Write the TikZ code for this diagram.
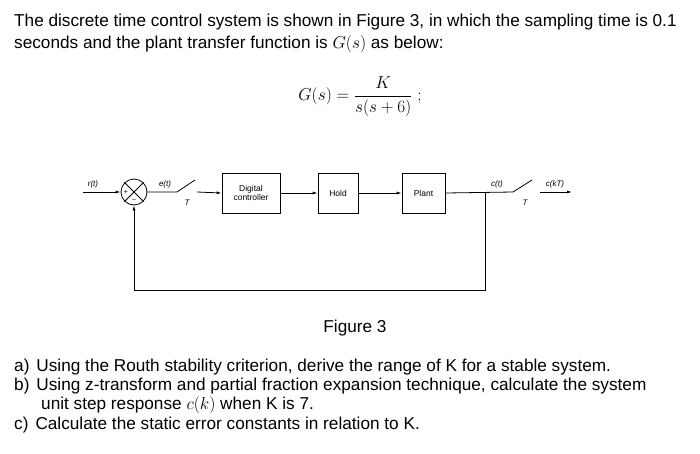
\documentclass[tikz,border=0pt]{standalone}
\usepackage{fontspec}
\usepackage{amsmath}
\setmainfont{Liberation Sans}
\usetikzlibrary{arrows.meta}
\begin{document}
\begin{tikzpicture}[x=1pt,y=-1pt,
  txt/.style={anchor=west,inner sep=0pt,font=\fontsize{17.2}{19}\selectfont},
  blk/.style={draw,thick,minimum height=40pt,inner sep=0pt,font=\fontsize{8.5}{9}\selectfont,align=center},
  lbl/.style={font=\fontsize{8}{9}\selectfont\itshape,inner sep=0pt},
  ar/.style={-{Latex[length=5pt,width=3pt]},thick}]
\useasboundingbox (0,0) rectangle (700,453);
\node[txt] (l1) at (14,22) {The discrete time control system is shown in Figure 3, in which the sampling time is 0.1};
\node[txt] (l2) at (14,44) {seconds and the plant transfer function is $G(s)$ as below:};
\node[inner sep=0pt,font=\fontsize{16}{18}\selectfont] (eq) at (360,97) {$G(s)=\dfrac{K}{s(s+6)}\;;$};
% diagram
\node[draw,thick,circle,minimum size=26pt,inner sep=0pt] (sum) at (134,192) {};
\draw[thick] (sum.45)--(sum.225) (sum.135)--(sum.315);
\node[font=\fontsize{7}{7}\selectfont,inner sep=0pt] (pl) at (126,192) {+};
\node[font=\fontsize{7}{7}\selectfont,inner sep=0pt] (mi) at (134,200) {--};
\coordinate (in) at (83,192);
\draw[ar] (in)--(sum.west);
\node[lbl] (rt) at (93,184) {r(t)};
\node[lbl] (et) at (165,184) {e(t)};
\coordinate (s1a) at (177,192);
\coordinate (s1b) at (195,180);
\coordinate (s1c) at (197,192);
\draw[thick] (sum.east)--(s1a)--(s1b);
\node[lbl] (T1) at (187,203) {T};
\node[blk,minimum width=58pt] (dc) at (251,193) {Digital\\controller};
\node[blk,minimum width=40pt] (hold) at (338,193) {Hold};
\node[blk,minimum width=43pt] (plant) at (423.5,193) {Plant};
\draw[ar] (s1c)--(dc.west);
\draw[ar] (dc.east)--(hold.west);
\draw[ar] (hold.east)--(plant.west);
\coordinate (br) at (485,192);
\coordinate (s2a) at (513,192);
\coordinate (s2b) at (532,180);
\coordinate (s2c) at (540,192);
\coordinate (out) at (572,192);
\draw[thick] (plant.east)--(s2a)--(s2b);
\draw[ar] (s2c)--(out);
\node[lbl] (ct) at (497,184) {c(t)};
\node[lbl] (T2) at (525,203) {T};
\node[lbl] (ckt) at (555,184) {c(kT)};
\coordinate (fb1) at (485,290);
\coordinate (fb2) at (134,290);
\draw[ar] (br)--(fb1)--(fb2)--(sum.south);
\node[txt,anchor=center] (fig) at (355,328) {Figure 3};
\node[txt] (a) at (14,367) {a)\hspace{7pt}Using the Routh stability criterion, derive the range of K for a stable system.};
\node[txt] (b) at (14,386) {b)\hspace{7pt}Using z-transform and partial fraction expansion technique, calculate the system};
\node[txt] (b2) at (41,405) {unit step response $c(k)$ when K is 7.};
\node[txt] (c) at (14,425) {c)\hspace{7pt}Calculate the static error constants in relation to K.};
\end{tikzpicture}
\end{document}
